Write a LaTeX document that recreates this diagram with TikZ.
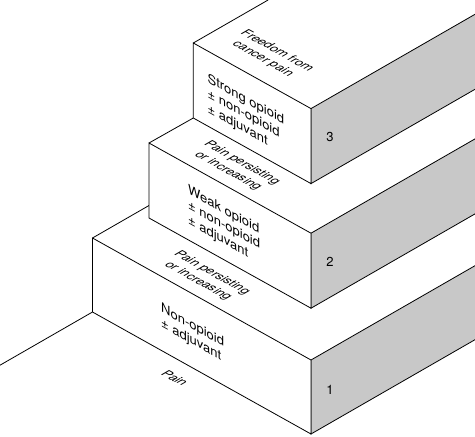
\documentclass[tikz,border=0pt]{standalone}
\usepackage{fontspec}
\setmainfont{TeX Gyre Heros}
\definecolor{sidegray}{RGB}{200,200,200}

\begin{document}
\begin{tikzpicture}[
    x=1pt, y=-1pt,
    edge/.style={draw=black, line width=0.8pt, line join=miter},
    frontface/.style={edge, fill=white},
    sideface/.style={edge, fill=sidegray},
    frontlbl/.style={
        transform shape, yslant=-0.557, anchor=north west,
        align=left, inner sep=0pt,
        font=\fontsize{13}{15}\selectfont},
    toplbl/.style={
        transform shape, cm={1,-0.557,1.0,0.577,(0,0)},
        align=center, inner sep=0pt,
        font=\fontsize{11}{14}\selectfont},
    numlbl/.style={inner sep=0pt, font=\fontsize{13}{15}\selectfont}
]

\useasboundingbox (0,0) rectangle (475,437);
\clip (0,0) rectangle (475,437);

%% ── Corners of the three blocks (front faces) ───────────────────
\coordinate (A1) at (92.5, 238.0);
\coordinate (B1) at (92.5, 312.0);
\coordinate (C1) at (311.0, 360.0);
\coordinate (D1) at (311.0, 434.0);

\coordinate (A2) at (149.0, 143.0);
\coordinate (B2) at (149.0, 218.0);
\coordinate (C2) at (311.0, 233.2);
\coordinate (D2) at (311.0, 308.2);

\coordinate (A3) at (193.3, 43.0);
\coordinate (B3) at (193.3, 118.0);
\coordinate (C3) at (311.0, 108.6);
\coordinate (D3) at (311.0, 183.6);

%% ── Floor and hidden back edges ─────────────────────────────────
\draw[edge] (0, 365.2) -- (B1);
\draw[edge] (A1) -- (149.0, 205.5);
\draw[edge] (A2) -- (B3);
\draw[edge] (A3) -- (268.1, 0);

%% ── Step 1 ──────────────────────────────────────────────────────
\draw[sideface] (C1) -- ++(180,-103.5) -- ++(0,74) -- (D1) -- cycle;
\draw[frontface] (A1) -- (C1) -- (D1) -- (B1) -- cycle;

%% ── Step 2 ──────────────────────────────────────────────────────
\draw[sideface] (C2) -- ++(180,-103.5) -- ++(0,75) -- (D2) -- cycle;
\draw[frontface] (A2) -- (C2) -- (D2) -- (B2) -- cycle;

%% ── Step 3 ──────────────────────────────────────────────────────
\draw[sideface] (C3) -- ++(180,-103.5) -- ++(0,75) -- (D3) -- cycle;
\draw[frontface] (A3) -- (C3) -- (D3) -- (B3) -- cycle;

%% ── Treatment on the front faces ────────────────────────────────
\node[shift={(207.5,72)}, frontlbl] (strong) at (0,0)
    {Strong opioid\\± non-opioid\\± adjuvant};
\node[shift={(188,184)}, frontlbl] (weak) at (0,0)
    {Weak opioid\\± non-opioid\\± adjuvant};
\node[shift={(161,302)}, frontlbl] (nonop) at (0,0)
    {Non-opioid\\± adjuvant};

%% ── Pain on the treads ──────────────────────────────────────────
\node[shift={(270,55)}, toplbl] (free) at (0,0)
    {Freedom from\\cancer pain};
\node[shift={(235,167)}, toplbl] (persist2) at (0,0)
    {Pain persisting\\or increasing};
\node[shift={(205,277)}, toplbl] (persist1) at (0,0)
    {Pain persisting\\or increasing};
\node[shift={(175,378)}, toplbl] (pain) at (0,0) {Pain};

%% ── Step numbers ────────────────────────────────────────────────
\node[numlbl] (n3) at (330, 136.7) {3};
\node[numlbl] (n2) at (330, 261.7) {2};
\node[numlbl] (n1) at (330, 390.0) {1};

\end{tikzpicture}
\end{document}
